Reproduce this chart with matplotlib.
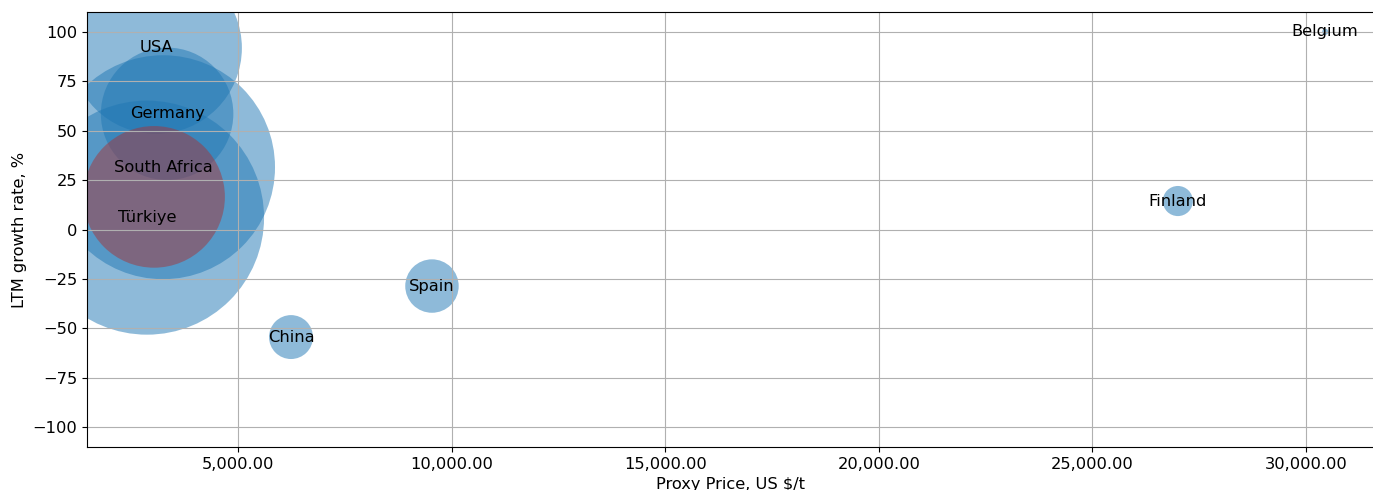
import matplotlib
matplotlib.use("Agg")
import matplotlib.pyplot as plt
from matplotlib.ticker import StrMethodFormatter

# countries shown as bubbles
countries = ["USA", "Germany", "South Africa", "Türkiye", "Spain", "China", "Finland", "Belgium"]
price = [3080, 3340, 3245, 2870, 9540, 6240, 27000, 30450]      # US $/t
growth = [91.8, 58.5, 31.5, 6.0, -28.6, -54.4, 14.4, 100.0]     # LTM growth, %
volume = [15300, 9100, 26000, 28400, 1480, 1000, 470, 20]       # bubble size

# unlabeled highlighted bubble
hl_price = [3035]
hl_growth = [16.5]
hl_volume = [10400]

plt.rcParams['font.family'] = ['DejaVu Sans']
plt.rcParams['font.size'] = 11.7

fig = plt.figure(figsize=(13.73, 4.9), dpi=100)
ax = fig.add_axes([87 / 1373, 43 / 490, 1 - 87 / 1373, 435 / 490])

for i, name in enumerate(countries):
    ax.scatter(price[i], growth[i], s=volume[i], color="tab:blue", alpha=0.5, edgecolors="none")
    if name == "Türkiye":
        ax.scatter(hl_price, hl_growth, s=hl_volume, color="#a5353a", alpha=0.5, edgecolors="none")
for i, name in enumerate(countries):
    ax.text(price[i], growth[i], name, ha="center", va="center")

ax.set_xlim(1465, 31568)
ax.set_ylim(-110, 110)
ax.set_yticks([-100, -75, -50, -25, 0, 25, 50, 75, 100])
ax.xaxis.set_major_formatter(StrMethodFormatter("{x:,.2f}"))
ax.grid(True)
ax.spines['right'].set_visible(False)

ax.set_xlabel("Proxy Price, US $/t")
ax.set_ylabel("LTM growth rate, %")

plt.savefig("out.png", dpi=100)
